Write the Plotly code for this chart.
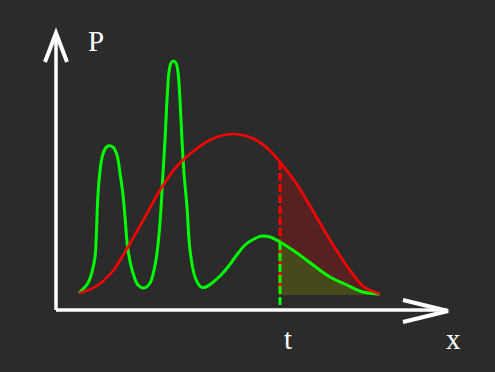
import plotly.graph_objects as go

# Curve samples (x: right from the vertical axis, y: up from the baseline)
red_x = [23, 39, 56, 72, 89, 106, 122, 139, 156, 176, 196, 210, 224, 240, 257, 274, 291, 307, 324]
red_y = [2, 8, 23, 48, 78, 108, 130, 145, 156, 161, 157, 148, 133, 112, 84, 55, 29, 9, 1]

green_x = [23, 32, 36, 39, 42, 45, 48, 52, 57, 61, 64, 67, 69, 72, 77, 82, 88, 94, 98, 101,
           104, 107, 109, 111, 113, 115, 117.5, 120, 122, 124, 126, 128, 131, 134, 139, 145,
           150, 156, 164, 172, 180, 189, 198, 206, 214, 224, 241, 257, 274, 291, 307, 324]
green_y = [2, 12, 23, 38, 101, 132, 144, 149, 148, 140, 122, 100, 78, 45, 22, 10, 7, 12, 25, 42,
           72, 122, 155, 195, 223, 232, 234, 232, 223, 195, 155, 122, 88, 45, 18, 8,
           8, 12, 19, 28, 39, 50, 56, 59, 58, 53, 42, 30, 18, 10, 3, 1]

t_value = 224
t_label = "t"
y_label = "P"
x_label = "x"

BG = "#2b2b2b"
SM = 1.0

def tail(xs, ys, t):
    px = [x for x in xs if x >= t]
    py = [y for x, y in zip(xs, ys) if x >= t]
    return px, py

rfx, rfy = tail(red_x, red_y, t_value)
gfx, gfy = tail(green_x, green_y, t_value)
red_t = red_y[red_x.index(t_value)]
green_t = green_y[green_x.index(t_value)]

fig = go.Figure()
# shaded areas beyond t
fig.add_trace(go.Scatter(x=rfx, y=rfy, mode="lines", line=dict(width=0, shape="spline", smoothing=SM),
                         fill="tozeroy", fillcolor="rgba(255,0,0,0.21)", hoverinfo="skip"))
fig.add_trace(go.Scatter(x=gfx, y=gfy, mode="lines", line=dict(width=0, shape="spline", smoothing=SM),
                         fill="tozeroy", fillcolor="rgba(0,255,0,0.18)", hoverinfo="skip"))
# dashed drop lines at t
fig.add_trace(go.Scatter(x=[t_value, t_value], y=[red_t, 0], mode="lines",
                         line=dict(color="#ff0000", width=3, dash="8px,3px")))
fig.add_trace(go.Scatter(x=[t_value, t_value], y=[green_t, -10], mode="lines",
                         line=dict(color="#00ff00", width=3, dash="8px,3px")))
# curves
fig.add_trace(go.Scatter(x=green_x, y=green_y, mode="lines",
                         line=dict(color="#00ff00", width=3, shape="spline", smoothing=SM)))
fig.add_trace(go.Scatter(x=red_x, y=red_y, mode="lines",
                         line=dict(color="#ff0000", width=2.6, shape="spline", smoothing=SM)))

# axes with arrows
axis_line = dict(color="white", width=3.5)
shapes = [
    dict(type="line", x0=0, y0=-15, x1=0, y1=261, line=axis_line),
    dict(type="line", x0=0, y0=-15, x1=391, y1=-15, line=axis_line),
    dict(type="path", path="M -11,233 L 0,262 L 11,233", line=dict(color="white", width=4)),
    dict(type="path", path="M 347,-5 L 392,-16 L 347,-27", line=dict(color="white", width=4)),
]

font = dict(family="Liberation Serif, Times New Roman, serif", size=29, color="white")
annotations = [
    dict(x=40, y=254, text=y_label, showarrow=False, xanchor="center", yanchor="middle", font=font),
    dict(x=397, y=-44, text=x_label, showarrow=False, xanchor="center", yanchor="middle", font=font),
    dict(x=t_value + 7.5, y=-44, text=t_label, showarrow=False, xanchor="center", yanchor="middle", font=font),
]

fig.update_layout(
    width=495, height=372,
    margin=dict(l=0, r=0, t=0, b=0),
    paper_bgcolor=BG, plot_bgcolor=BG,
    showlegend=False,
    xaxis=dict(range=[-56, 439], visible=False),
    yaxis=dict(range=[-77, 295], visible=False),
    shapes=shapes,
    annotations=annotations,
)

fig.write_html("out.html")
